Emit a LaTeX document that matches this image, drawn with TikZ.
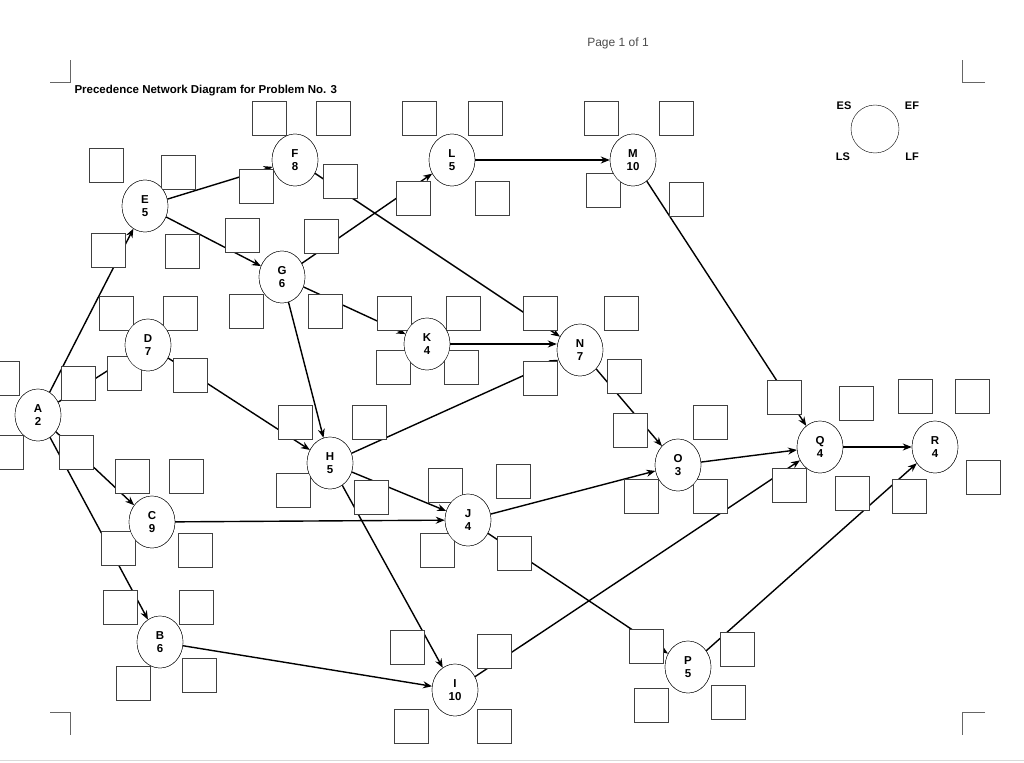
\documentclass[tikz,border=0pt]{standalone}
\usepackage{fontspec}
\setmainfont{Liberation Sans}
\usetikzlibrary{shapes.geometric,arrows.meta}
\begin{document}
\begin{tikzpicture}[x=1pt,y=-1pt,
 act/.style={ellipse,draw,fill=white,minimum width=46pt,minimum height=52pt,inner sep=0pt,align=center,font=\bfseries\fontsize{11.5}{12.5}\selectfont},
 bx/.style={draw=black!75,fill=white,minimum size=34pt,inner sep=0pt},
 ar/.style={-{Stealth[length=9pt,width=7pt]},line width=1.4pt},
 crn/.style={line width=0.8pt,black!60}]
\useasboundingbox (0,0) rectangle (1024,762);
\node[font=\fontsize{12}{14}\selectfont,text=black!70] (page) at (618,43) {Page 1 of 1};
\node[anchor=west,font=\bfseries\fontsize{11.5}{14}\selectfont] (title) at (71,91) {Precedence Network Diagram for Problem No. 3};
\draw[crn] (50,82) -- (70,82) -- (70,60);
\draw[crn] (985,82) -- (962,82) -- (962,60);
\draw[crn] (50,712) -- (70,712) -- (70,735);
\draw[crn] (985,712) -- (962,712) -- (962,735);
\draw[black!15] (0,760) -- (1024,760);
% legend
\node[ellipse,draw,minimum width=48pt,minimum height=48pt] (leg) at (875,129) {};
\begin{scope}[font=\bfseries\fontsize{11}{12}\selectfont]
\node (es) at (844,106) {ES}; \node (ef) at (912,106) {EF};
\node (ls) at (843,157) {LS}; \node (lf) at (912,157) {LF};
\end{scope}
% activity coordinates
\coordinate (pA) at (38,415); \coordinate (pE) at (145,206); \coordinate (pD) at (148,345);
\coordinate (pC) at (152,522); \coordinate (pB) at (160,642); \coordinate (pF) at (295,160);
\coordinate (pG) at (282,277); \coordinate (pH) at (330,463); \coordinate (pL) at (452,160);
\coordinate (pK) at (427,344); \coordinate (pI) at (455,690); \coordinate (pJ) at (468,520);
\coordinate (pM) at (633,160); \coordinate (pN) at (580,350); \coordinate (pO) at (678,465);
\coordinate (pP) at (688,667); \coordinate (pQ) at (820,447); \coordinate (pR) at (935,447);
\foreach \n/\d in {A/2,E/5,D/7,C/9,B/6,F/8,G/6,H/5,L/5,K/4,I/10,J/4,M/10,N/7,O/3,P/5,Q/4,R/4}
  \node[act] (\n) at (p\n) {\n\\\d};
% connectors
\draw[ar] (A) -- (E); \draw[ar] (A) -- (D); \draw[ar] (A) -- (C); \draw[ar] (A) -- (B);
\draw[ar] (E) -- (F); \draw[ar] (E) -- (G); \draw[ar] (F) -- (N);
\draw[ar] (G) -- (L); \draw[ar] (G) -- (K); \draw[ar] (G) -- (H);
\draw[ar] (D) -- (H); \draw[ar] (L) -- (M); \draw[ar] (M) -- (Q);
\draw[ar] (K.east) -- (K.east -| N.west); \draw[ar] (H) -- (N); \draw[ar] (N) -- (O);
\draw[ar] (H) -- (J); \draw[ar] (H) -- (I); \draw[ar] (C) -- (J);
\draw[ar] (J) -- (O); \draw[ar] (J) -- (P); \draw[ar] (B) -- (I);
\draw[ar] (I) -- (Q); \draw[ar] (O) -- (Q); \draw[ar] (Q) -- (R); \draw[ar] (P) -- (R);
% boxes
\foreach \x/\y [count=\i] in {106/165,178/172,108/250,182/251, 269/118,333/118,256/186,340/181,
 116/313,180/313,124/373,190/375, 2/378,78/383,6/452,76/452, 242/235,321/236,246/311,325/311,
 419/118,485/118,413/198,492/198, 601/118,676/118,603/190,686/199, 394/313,463/313,393/367,461/367,
 540/313,621/313,540/378,624/376, 295/422,369/422,293/490,371/497, 132/476,186/476,118/548,195/550,
 445/485,513/481,437/550,514/553, 120/607,196/607,133/683,199/675, 407/647,494/651,411/726,494/726,
 630/430,710/422,641/496,710/496, 646/646,737/649,651/705,728/702, 784/397,856/403,789/485,852/493,
 915/396,972/396,909/496,983/477}
  \node[bx] (b\i) at (\x,\y) {};
\foreach \n/\d in {A/2,E/5,D/7,C/9,B/6,F/8,G/6,H/5,L/5,K/4,I/10,J/4,M/10,N/7,O/3,P/5,Q/4,R/4}
  \node[act] (t\n) at (p\n) {\n\\\d};
\end{tikzpicture}
\end{document}
